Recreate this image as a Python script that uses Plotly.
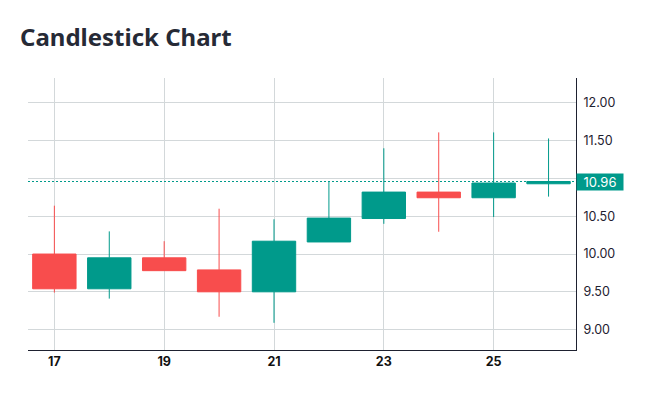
import plotly.graph_objects as go

days = [17, 18, 19, 20, 21, 22, 23, 24, 25, 26]
opens = [10.00, 9.54, 9.95, 9.79, 9.50, 10.16, 10.47, 10.82, 10.745, 10.93]
highs = [10.64, 10.30, 10.17, 10.60, 10.46, 10.96, 11.40, 11.61, 11.61, 11.53]
lows = [9.49, 9.41, 9.78, 9.17, 9.09, 10.16, 10.40, 10.295, 10.49, 10.76]
closes = [9.54, 9.95, 9.78, 9.50, 10.17, 10.476, 10.82, 10.745, 10.94, 10.96]
x_ticks = [17, 19, 21, 23, 25]
y_ticks = [9.0, 9.5, 10.0, 10.5, 11.0, 11.5, 12.0]

UP = "#009a8b"
DOWN = "#f84d4d"
GRID = "#d3d8da"
AXIS = "#1e2130"

last = closes[-1]
last_color = UP if closes[-1] >= opens[-1] else DOWN
# tick label hidden where it would collide with the last-price label
y_text = ["" if abs(v - last) < 0.12 else f"{v:.2f}" for v in y_ticks]

fig = go.Figure()
fig.add_trace(go.Candlestick(
    x=days, open=opens, high=highs, low=lows, close=closes,
    increasing=dict(line=dict(color=UP, width=1), fillcolor=UP),
    decreasing=dict(line=dict(color=DOWN, width=1), fillcolor=DOWN),
    whiskerwidth=0, showlegend=False, hoverinfo="x+y",
))

fig.add_shape(type="line", xref="paper", x0=0, x1=1, yref="y", y0=last, y1=last,
              line=dict(color=last_color, width=1, dash="2px,2px"))
fig.add_annotation(xref="paper", x=1, yref="y", y=last, text=f"{last:.2f}",
                   xanchor="left", yanchor="middle", showarrow=False,
                   bgcolor=last_color, font=dict(color="white", size=13, family="Inter"),
                   width=45, height=15, borderpad=0.5)

fig.update_layout(
    width=648, height=395,
    margin=dict(l=20, r=80, t=70, b=53),
    paper_bgcolor="white", plot_bgcolor="white",
    boxgap=0.21, boxgroupgap=0,
    title=dict(text="<b>Candlestick Chart</b>", x=12/648, xanchor="left", xref="container",
               y=1-30/395, yanchor="middle",
               font=dict(family="Noto Sans", size=24, color="#262a36")),
    xaxis=dict(range=[16.52, 26.5], tickvals=x_ticks, ticktext=[str(t) for t in x_ticks],
               showgrid=True, gridcolor=GRID, gridwidth=1,
               showline=True, linecolor=AXIS, linewidth=1,
               rangeslider=dict(visible=False), ticks="",
               tickfont=dict(family="Inter", size=12.5, color="#111", weight=700),
               zeroline=False, fixedrange=True),
    yaxis=dict(side="right", range=[8.73, 12.33], tickvals=y_ticks,
               ticktext=y_text,
               showgrid=True, gridcolor=GRID, gridwidth=1,
               showline=True, linecolor=AXIS, linewidth=1, ticks="",
               ticklabelstandoff=4,
               tickfont=dict(family="Inter", size=12.5, color="#1e2130"),
               zeroline=False, fixedrange=True),
)

fig.write_html("out.html")
